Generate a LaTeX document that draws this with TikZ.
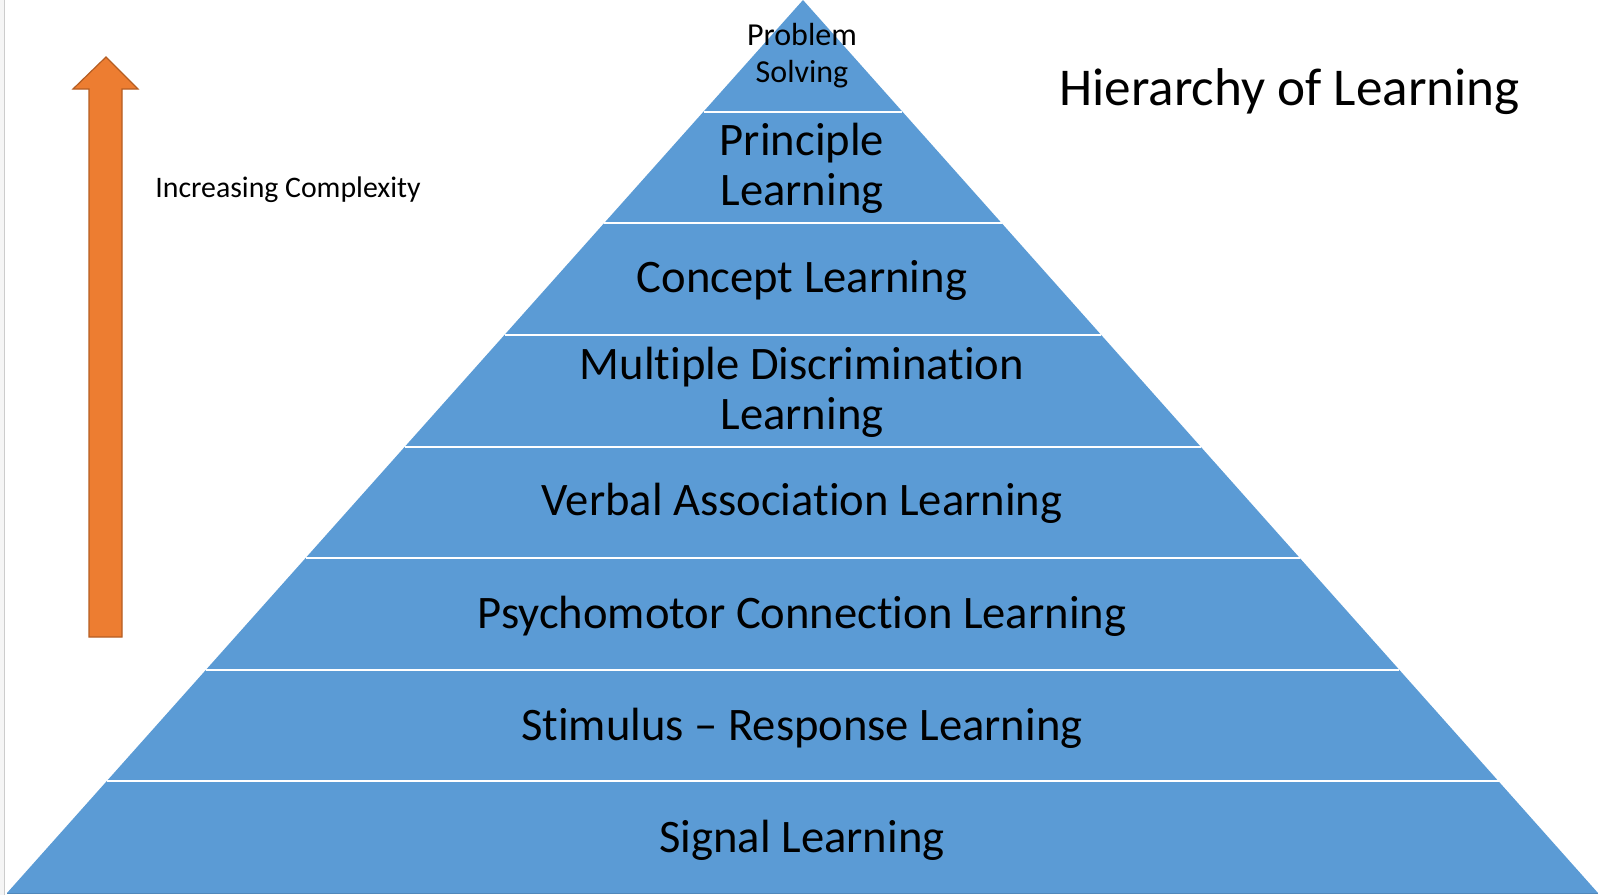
\documentclass[tikz,border=0pt]{standalone}
\usepackage{fontspec}
\setmainfont{Carlito}[Ligatures={NoCommon,NoContextual}]
\usetikzlibrary{calc}
\definecolor{pyrblue}{HTML}{5B9BD5}
\definecolor{arrorange}{HTML}{ED7D31}
\definecolor{arredge}{HTML}{B55D22}
\begin{document}
\begin{tikzpicture}[x=0.5pt,y=-0.5pt,
    lvl/.style={font=\fontsize{23.3}{25}\selectfont,align=center,inner sep=0pt},
    tip/.style={font=\fontsize{16}{18.5}\selectfont,align=center,inner sep=0pt}]
\useasboundingbox (0,0) rectangle (1600,895);

% window edge
\fill[gray!8] (0,0) rectangle (4,895);
\draw[gray!40] (4.5,0) -- (4.5,895);

% Pyramid
\coordinate (apex) at (803,0);
\coordinate (bl) at (7,893);
\coordinate (br) at (1598,893);
\fill[pyrblue] (apex) -- (bl) -- (br) -- cycle;
\draw[pyrblue!88!black, line width=0.5pt] (bl) -- (br);
\foreach \f [evaluate=\f as \t using \f/8] in {1,...,7}
    \draw[white, line width=1pt] ($(apex)!\t!(bl)$) -- ($(apex)!\t!(br)$);

% Levels, top to bottom
\node[tip] (problem) at (802,56) {Problem\\Solving};
\node[lvl] (principle) at (802,168.5) {Principle\\Learning};
\node[lvl,anchor=base] (concept) at (802,292.5) {Concept Learning};
\node[lvl] (multiple) at (802,392.5) {Multiple Discrimination\\Learning};
\node[lvl,anchor=base] (verbal) at (802,515.5) {Verbal Association Learning};
\node[lvl,anchor=base] (psycho) at (802,628) {Psychomotor Connection Learning};
\node[lvl,anchor=base] (stimulus) at (802,740) {Stimulus – Response Learning};
\node[lvl,anchor=base] (signal) at (802,852) {Signal Learning};

% Title
\node[font=\fontsize{26.6}{28}\selectfont,anchor=base west,inner sep=0pt] (title) at (1059,105) {Hierarchy of Learning};

% Arrow
\draw[arredge, fill=arrorange, line width=0.6pt] (89,637) -- (89,89) -- (73,89) -- (106,57)
    -- (138,89) -- (122,89) -- (122,637) -- cycle;
\node[font=\fontsize{14.9}{16}\selectfont,anchor=base west,inner sep=0pt] (complexity) at (155,197) {Increasing Complexity};
\end{tikzpicture}
\end{document}
